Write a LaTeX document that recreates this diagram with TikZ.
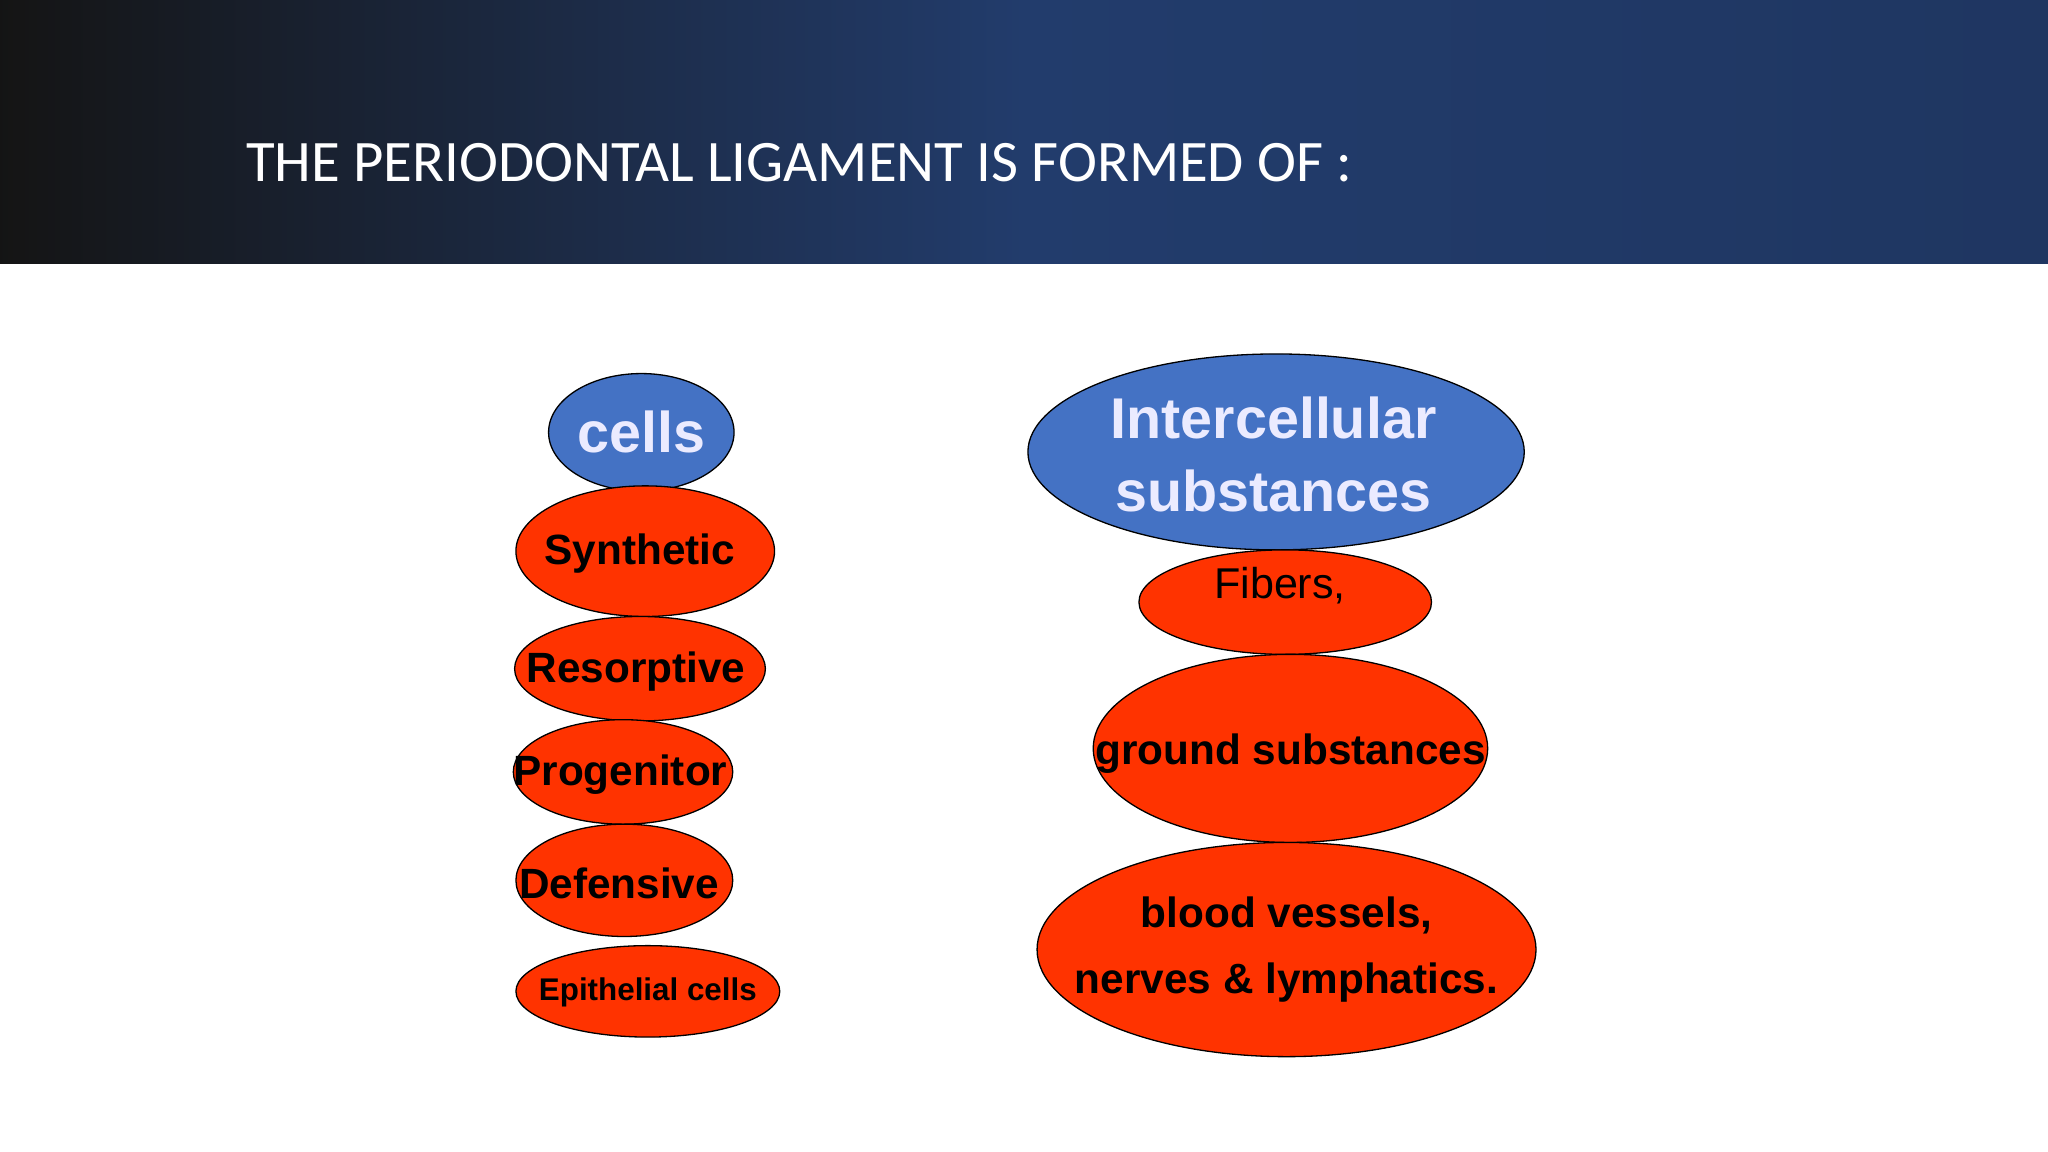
\documentclass[tikz,border=0pt]{standalone}
\usepackage{fontspec}
\setmainfont{Liberation Sans}
\newfontfamily\titlefont{Carlito}
\usetikzlibrary{shapes.geometric}
\definecolor{blobred}{RGB}{255,51,0}
\definecolor{blobblue}{RGB}{68,114,196}
\definecolor{bandblue}{RGB}{34,60,108}
\tikzset{every picture/.style={line width=0.5pt}}
\tikzset{
  blob/.style={ellipse,draw=black,fill=blobred,inner sep=0pt},
  headblob/.style={blob,fill=blobblue},
  blobtext/.style={inner sep=0pt,text=black,align=center,font=\bfseries\fontsize{16.2}{25}\selectfont},
  headtext/.style={blobtext,text=white!92!blue,font=\bfseries\fontsize{22}{28}\selectfont}
}
\begin{document}
\begin{tikzpicture}[x=0.5pt,y=0.5pt,yscale=-1,xscale=1]
\useasboundingbox (0,0) rectangle (1568,882);
\fill[white] (0,0) rectangle (1568,882);
%Title band
\shade[left color=black!92,right color=bandblue!90!black,middle color=bandblue] (0,0) rectangle (1568,202);
\node (title) [anchor=south west,inner sep=0pt,text=white,font=\titlefont\fontsize{22.5}{26}\selectfont] at (188,140) {THE PERIODONTAL LIGAMENT IS FORMED OF :};

%Left column
\node (cells) [headblob,minimum width=71pt,minimum height=45pt] at (491,331) {};
\node (cellstxt) [headtext] at (cells.center) {cells};
\node (synth) [blob,minimum width=99pt,minimum height=50pt] at (494,422) {};
\node (synthtxt) [blobtext] at (490,424) {Synthetic};
\node (resorp) [blob,minimum width=96pt,minimum height=40pt] at (490,512) {};
\node (resorptxt) [blobtext] at (487,514) {Resorptive};
\node (progen) [blob,minimum width=84pt,minimum height=40pt] at (477,591) {};
\node (progentxt) [blobtext] at (475,593) {Progenitor};
\node (defens) [blob,minimum width=83pt,minimum height=43pt] at (478,674) {};
\node (defenstxt) [blobtext] at (474,676) {Defensive};
\node (epith) [blob,minimum width=101pt,minimum height=35pt] at (496,759) {};
\node (epithtxt) [blobtext,font=\bfseries\fontsize{12}{14}\selectfont] at (496,760) {Epithelial cells};

%Right column
\node (inter) [headblob,minimum width=190pt,minimum height=75pt] at (977,346) {};
\node (intertxt) [headtext] at (975,348) {Intercellular\\ substances};
\node (fibers) [blob,minimum width=112pt,minimum height=40pt] at (984,461) {};
\node (fibtxt) [inner sep=0pt,font=\fontsize{16.5}{20}\selectfont] at (980,448) {Fibers,};
\node (ground) [blob,minimum width=151pt,minimum height=72pt] at (988,573) {};
\node (groundtxt) [blobtext] at (988,577) {ground substances};
\node (blood) [blob,minimum width=191pt,minimum height=82pt] at (985,727) {};
\node (bloodtxt) [blobtext] at (985,727) {blood vessels,\\ nerves \& lymphatics.};
\end{tikzpicture}
\end{document}
